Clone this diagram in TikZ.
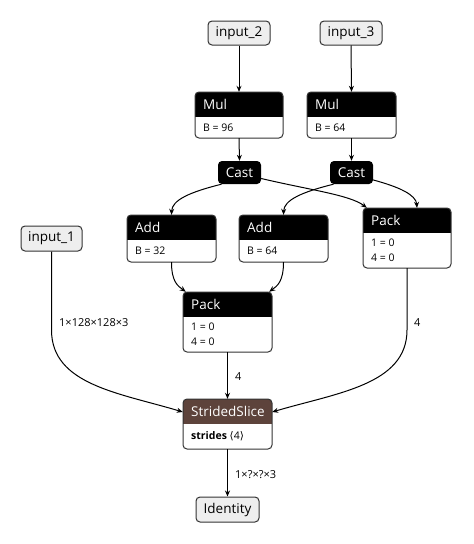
\documentclass[tikz,border=0pt]{standalone}
\usepackage{fontspec}
\setmainfont{Open Sans}
\newfontfamily\symfont{DejaVu Sans}
\usetikzlibrary{arrows.meta,fit}
\definecolor{brownhdr}{RGB}{93,67,59}
\definecolor{inputfill}{RGB}{238,238,238}
\definecolor{bordergray}{RGB}{51,51,51}
\tikzset{
  arr/.style={draw=black, line width=1pt, -{Stealth[length=6pt,width=5pt]}},
  boxborder/.style={draw=bordergray, line width=1pt},
  hdrtext/.style={text=white, font=\fontsize{13.5}{15}\selectfont, inner sep=0pt},
  bodytext/.style={text=black, font=\fontsize{10.5}{15}\selectfont, inner sep=0pt, align=left},
  inbox/.style={draw=bordergray, line width=1pt, fill=inputfill, rounded corners=4pt, inner sep=0pt, font=\fontsize{13.5}{15}\selectfont},
  elabel/.style={font=\fontsize{11}{12}\selectfont, inner sep=0pt, anchor=west}
}
\newcommand\opbox[9]{%
  \node[fit={(#2,#4) (#3,#6)}, inner sep=0pt] (#1) {};
  \begin{scope}
    \clip[rounded corners=4pt] (#2,#4) rectangle (#3,#6);
    \fill[#7] (#2,#4) rectangle (#3,#5);
    \fill[white] (#2,#5) rectangle (#3,#6);
  \end{scope}
  \draw[boxborder, rounded corners=4pt] (#2,#4) rectangle (#3,#6);
  \node[hdrtext, anchor=west] (#1-title) at ({#2+8},{(#4+#5)/2}) {#8};
  \node[bodytext, anchor=west] (#1-body) at ({#2+8},{(#5+#6)/2}) {#9};
}
\begin{document}
\begin{tikzpicture}[x=1pt,y=-1pt]
\useasboundingbox[fill=white] (0,0) rectangle (474,544);
% inputs
\node[inbox, minimum width=62pt, minimum height=24pt] (in2) at (239,33) {input\_2};
\node[inbox, minimum width=62pt, minimum height=24pt] (in3) at (351,33) {input\_3};
\node[inbox, minimum width=61pt, minimum height=25pt] (in1) at (51.5,238.5) {input\_1};
\node[inbox, minimum width=63pt, minimum height=25pt] (idt) at (227.5,509.5) {Identity};
% ops
\opbox{mulL}{195}{283}{92}{117}{138}{black}{Mul}{B = 96}
\opbox{mulR}{307}{396}{92}{117}{138}{black}{Mul}{B = 64}
\node[fill=black, rounded corners=4pt, minimum width=43pt, minimum height=23pt, inner sep=0pt, text=white, font=\fontsize{13.5}{15}\selectfont] (castL) at (239.5,172.5) {Cast};
\node[fill=black, rounded corners=4pt, minimum width=43pt, minimum height=23pt, inner sep=0pt, text=white, font=\fontsize{13.5}{15}\selectfont] (castR) at (351.5,172.5) {Cast};
\opbox{addL}{127}{216}{215}{240}{262}{black}{Add}{B = 32}
\opbox{addR}{239}{328}{215}{240}{262}{black}{Add}{B = 64}
\opbox{packR}{363}{451}{208}{233}{268}{black}{Pack}{1 = 0\\4 = 0}
\opbox{packM}{183}{272}{292}{317}{352}{black}{Pack}{1 = 0\\4 = 0}
\opbox{ss}{183}{272}{399}{424}{449}{brownhdr}{StridedSlice}{\textbf{strides} {\symfont ⟨}4{\symfont ⟩}}
% edges
\draw[arr] (in2.south) -- (mulL.north);
\draw[arr] (in3.south) -- (mulR.north);
\draw[arr] (mulL.south) -- (castL.north);
\draw[arr] (mulR.south) -- (castR.north);
\draw[arr] ([xshift=-18pt]castL.south) .. controls (190,192) and (172,200) .. (addL.north);
\draw[arr] ([yshift=-6pt]castL.east) .. controls (310,190) and (350,195) .. ([xshift=4pt]packR.north west);
\draw[arr] ([xshift=-18pt]castR.south) .. controls (302,192) and (284,200) .. (addR.north);
\draw[arr] ([xshift=20pt,yshift=-7pt]castR.center) .. controls (400,187) and (416,195) .. ([xshift=10pt]packR.north);
\draw[arr] (addL.south) .. controls (171.5,282) and (178,286) .. ([xshift=3pt]packM.north west);
\draw[arr] (addR.south) .. controls (283.5,282) and (277,286) .. ([xshift=-3pt]packM.north east);
\draw[arr] (packM.south) -- (ss.north);
\draw[arr] (in1.south) -- (51.5,330) .. controls (51.5,385) and (120,393) .. ([yshift=12pt]ss.west);
\draw[arr] (packR.south) -- (407,330) .. controls (407,385) and (336,393) .. ([yshift=12pt]ss.east);
\draw[arr] (ss.south) -- (idt.north);
% labels
\node[elabel] (l1) at (59,323) {1×128×128×3};
\node[elabel] (l2) at (414,323) {4};
\node[elabel] (l3) at (235,377) {4};
\node[elabel] (l4) at (235,475) {1×?×?×3};
\end{tikzpicture}
\end{document}
